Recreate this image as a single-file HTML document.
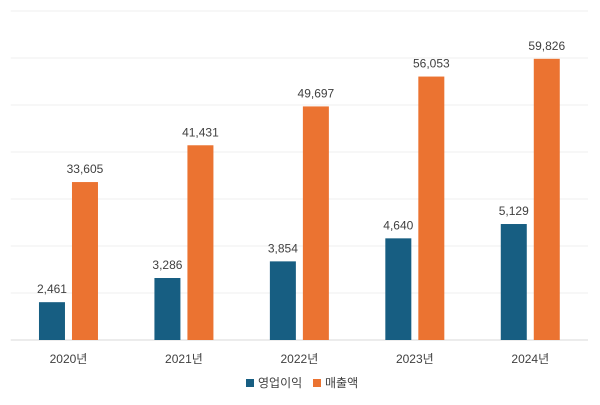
<!DOCTYPE html>
<html><head><meta charset="utf-8"><style>
body{margin:0;background:#fff;}
svg text{font-family:"Liberation Sans","Noto Sans CJK KR",sans-serif;fill:#404040;}
</style></head><body>
<svg width="600" height="400" id="chart"></svg>
<script>
const categories=["2020년","2021년","2022년","2023년","2024년"];
const profit=[2461,3286,3854,4640,5129];
const sales=[33605,41431,49697,56053,59826];
const ns="http://www.w3.org/2000/svg";
const svgEl=document.getElementById('chart');
const plotLeft=10.75,plotRight=588,plotBase=340,plotTop=11;
const band=(plotRight-plotLeft)/categories.length;
function y1(v){return plotBase-v/70000*(plotBase-plotTop);}
function y2(v){return plotBase-(v-1170)/(12400-1170)*(plotBase-plotTop);}
function mk(t,a){const e=document.createElementNS(ns,t);for(const k in a)e.setAttribute(k,a[k]);svgEl.appendChild(e);return e;}
for(let i=0;i<=7;i++){const y=y1(i*10000);
const g=mk('line',{x1:plotLeft,x2:plotRight,y1:y,y2:y,stroke:i==0?'#d9d9d9':'#efefef','stroke-width':1});

}
categories.forEach((c,i)=>{
const cx=plotLeft+band*(i+0.5);
const yb=y2(profit[i]);
const b=mk('rect',{x:cx-29.5,y:yb,width:26,height:plotBase-yb,fill:'#175e82'});


const ys=y1(sales[i]);
const o=mk('rect',{x:cx+3.5,y:ys,width:26,height:plotBase-ys,fill:'#eb7331'});


const t1=mk('text',{x:cx-16.5,y:yb-9,'text-anchor':'middle','font-size':12});
t1.textContent=profit[i].toLocaleString('en-US');


const t2=mk('text',{x:cx+16.5,y:ys-9,'text-anchor':'middle','font-size':12});
t2.textContent=sales[i].toLocaleString('en-US');


const xl=mk('text',{x:cx,y:363,'text-anchor':'middle','font-size':12,fill:'#595959'});
xl.textContent=c;


});
const l1=mk('rect',{x:246,y:379,width:8,height:8,fill:'#175e82'});


const lt1=mk('text',{x:258,y:387,'font-size':12});lt1.textContent='영업이익';


const l2=mk('rect',{x:313,y:379,width:8,height:8,fill:'#eb7331'});


const lt2=mk('text',{x:325,y:387,'font-size':12});lt2.textContent='매출액';


</script>
</body></html>
